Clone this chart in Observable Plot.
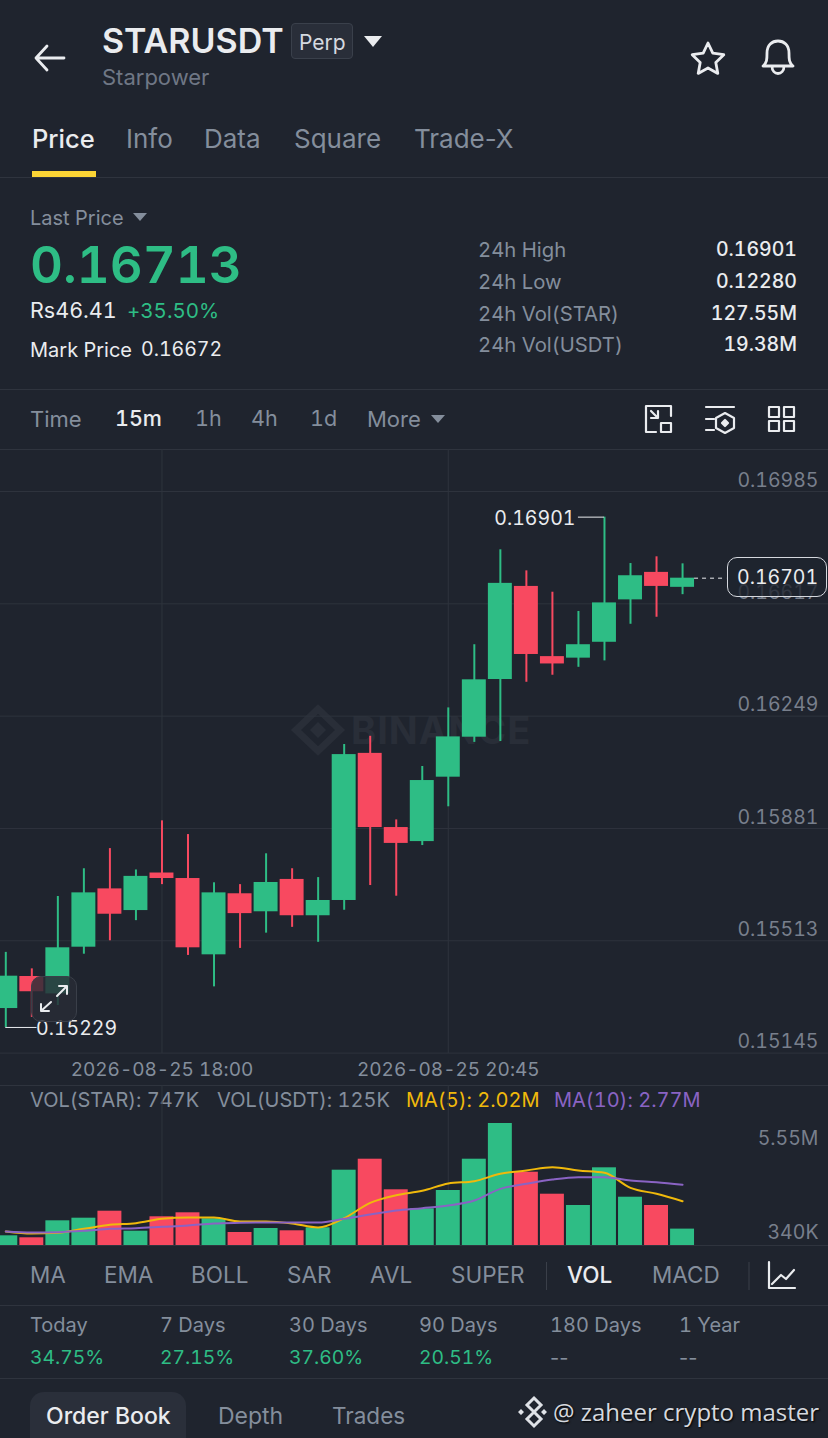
<!DOCTYPE html>
<html>
<head>
<meta charset="utf-8">
<script src="https://cdn.jsdelivr.net/npm/d3@7"></script>
<script src="https://cdn.jsdelivr.net/npm/@observablehq/plot@0.6"></script>
<style>
html,body{margin:0;padding:0;background:#1f242e;}
#page{position:relative;width:828px;height:1438px;overflow:hidden;background:#1f242e;font-family:Inter,sans-serif;font-variant-numeric:tabular-nums;font-feature-settings:"calt" 0,"tnum" 1;}
#page svg text{font-feature-settings:"calt" 0,"tnum" 1;}
.t{position:absolute;white-space:pre;line-height:1;transform:translateY(-50%);}
.hr{position:absolute;left:0;width:828px;height:1px;background:#2f343e;}
svg.icons{position:absolute;left:0;top:0;width:828px;height:1438px;pointer-events:none;}
</style>
</head>
<body>
<div id="page"></div>
<script>
// ---------- chart data ----------
const times = ["16:30","16:45","17:00","17:15","17:30","17:45","18:00","18:15","18:30","18:45","19:00","19:15","19:30","19:45","20:00","20:15","20:30","20:45","21:00","21:15","21:30","21:45","22:00","22:15","22:30","22:45","23:00"];
const open  = [.15291,.15396,.15339,.15492,.15683,.15612,.15735,.15717,.15467,.15667,.15608,.15714,.15595,.15645,.16127,.15884,.15838,.16049,.16180,.16369,.16674,.16444,.16439,.16491,.16630,.16720,.16671];
const close = [.15397,.15346,.15490,.15670,.15600,.15724,.15717,.15490,.15670,.15602,.15704,.15595,.15645,.16123,.15884,.15832,.16038,.16181,.16368,.16684,.16451,.16420,.16483,.16620,.16709,.16674,.16701];
const high  = [.15475,.15421,.15658,.15749,.15815,.15745,.15906,.15861,.15703,.15697,.15798,.15749,.15720,.16156,.16183,.15909,.16084,.16276,.16483,.16794,.16725,.16655,.16592,.16901,.16749,.16771,.16748];
const low   = [.15229,.15262,.15301,.15469,.15513,.15579,.15697,.15465,.15362,.15488,.15538,.15557,.15508,.15613,.15694,.15659,.15825,.15952,.16163,.16166,.16360,.16383,.16409,.16430,.16550,.16573,.16647];
const volume= [.442,.351,1.126,1.245,1.564,.652,1.309,1.491,1.218,.593,.775,.670,.807,3.434,3.935,2.540,1.674,2.508,3.935,5.563,3.342,2.339,1.824,3.543,2.202,1.824,.747];
const ma5   = [.638,.547,.578,.760,.943,1.018,1.216,1.277,1.277,1.094,1.094,1.003,.821,1.246,1.946,2.295,2.493,2.827,2.934,3.268,3.420,3.572,3.420,3.314,2.630,2.356,2.02];
const ma10  = [.638,.593,.608,.669,.760,.790,.851,.912,1.003,1.034,1.049,1.049,1.049,1.216,1.414,1.596,1.702,1.824,2.052,2.584,2.812,3.010,3.116,3.116,2.964,2.888,2.77];
const priceTicks = [.16985,.16617,.16249,.15881,.15513,.15145];
const timeTicks = ["18:00","20:45"];
const volTickHigh = [5.55], volTickLow = [.34];
const lastPrice = .16701, highest = .16901, lowest = .15229;

// ---------- interface text ----------
const C = {grey:"#848e9c", dim:"#6f7785", white:"#eaecef", green:"#2ebd85", red:"#f84960", yellow:"#f0b90b", purple:"#8a63c4", grid:"#2e333d"};
const labels = [
 ["STARUSDT",102,41,34,"#eaecef",600],["Perp",299,42,21,"#d5d9e0",400],["Starpower",102,77,22,C.dim,400],
 ["Price",32,139,25.5,"#eaecef",500],["Info",126,139,26,C.grey,400],["Data",204,139,26,C.grey,400],["Square",294,139,26,C.grey,400],["Trade-X",414,139,26,C.grey,400,"plain"],
 ["Last Price",30,218,20,C.grey,400],["0.16713",30,264,51,C.green,600],["Rs46.41",30,311,21.5,C.white,400],["+35.50%",127,311,20.5,C.green,400],
 ["Mark Price",30,350,20,C.white,400],["0.16672",141,350,19.5,C.white,400],
 ["24h High",478,250,20.3,C.grey,400],["24h Low",478,282,20.3,C.grey,400],["24h Vol(STAR)",478,314,20.3,C.grey,400],["24h Vol(USDT)",478,345,20.3,C.grey,400],
 ["Time",30,419,22,C.grey,400],["15m",115,419,21.5,"#eaecef",500],["1h",195,419,21.5,C.grey,400],["4h",251,419,21.5,C.grey,400],["1d",310,419,21.5,C.grey,400],["More",367,419,22,C.grey,400],
 ["VOL(STAR): 747K",30,1100,20,C.grey,400],["VOL(USDT): 125K",217,1100,20,C.grey,400],["MA(5): 2.02M",406,1100,20,C.yellow,400],["MA(10): 2.77M",554,1100,20,C.purple,400],
 ["MA",30,1275,22.5,C.grey,400],["EMA",104,1275,22.5,C.grey,400],["BOLL",191,1275,22.5,C.grey,400],["SAR",287,1275,22.5,C.grey,400],["AVL",370,1275,22.5,C.grey,400],["SUPER",451,1275,22.5,C.grey,400],["VOL",567,1275,22.5,"#eaecef",500],["MACD",652,1275,22.5,C.grey,400],
 ["Today",30,1325,20,C.grey,400],["7 Days",160,1325,20,C.grey,400],["30 Days",289,1325,20,C.grey,400],["90 Days",419,1325,20,C.grey,400],["180 Days",550,1325,20,C.grey,400],["1 Year",679,1325,20,C.grey,400],
 ["34.75%",30,1358,19.3,C.green,400],["27.15%",160,1358,19.3,C.green,400],["37.60%",289,1358,19.3,C.green,400],["20.51%",419,1358,19.3,C.green,400],["--",550,1358,20,C.grey,400,"plain"],["--",679,1358,20,C.grey,400,"plain"],
 ["Order Book",46,1416,23,"#eaecef",500],["Depth",218,1416,23,C.grey,400],["Trades",332,1416,22.5,C.grey,400]
];
const statValues = [["0.16901",250],["0.12280",282],["127.55M",314],["19.38M",345]];

const page = document.getElementById("page");
const el = (html) => {const d=document.createElement("div");d.innerHTML=html;const n=d.firstElementChild;page.appendChild(n);return n;};
[177,389,449,1085,1305,1378].forEach(y=>el(`<div class="hr" style="top:${y}px"></div>`));
el(`<div style="position:absolute;left:32px;top:171px;width:64px;height:6px;background:#fcd535"></div>`);
el(`<div style="position:absolute;left:291px;top:23px;width:60px;height:34px;border:1px solid #3a404b;border-radius:4px;background:#292e39"></div>`);
el(`<div style="position:absolute;left:30px;top:1392px;width:156px;height:60px;border-radius:14px;background:#2a2f3a"></div>`);
// Binance watermark, beneath the chart
el(`<div class="t" style="left:351px;top:730px;font-size:38px;font-weight:700;color:#292e38;letter-spacing:1px">BINANCE</div>`);
el(`<svg class="icons"><g fill="none" stroke="#292e38"><path d="M318 709l22 21-22 21-22-21z" stroke-width="7"/></g><path d="M318 722l8 8-8 8-8-8z" fill="#292e38"/></svg>`);

for (const [s,x,y,size,color,w,plain] of labels)
  el(`<div class="t" style="left:${x}px;top:${y}px;font-size:${size}px;color:${color};font-weight:${w}${plain?';font-feature-settings:normal;font-variant-numeric:normal':''}">${s}</div>`);
for (const [s,y] of statValues)
  el(`<div class="t" style="right:31px;top:${y}px;font-size:19.5px;color:${C.white};font-weight:500">${s}</div>`);
el(`<div class="t" style="left:553px;top:1412px;font-family:'Open Sans',sans-serif;font-size:24px;color:#d5d8de;text-shadow:1px 1px 2px #000">@ zaheer crypto master</div>`);

// ---------- chart ----------
const day = "2026-08-25T";
const rows = times.map((s,i)=>({t:new Date(day+s+":00Z"),open:open[i],close:close[i],high:high[i],low:low[i],volume:volume[i],ma5:ma5[i],ma10:ma10[i]}));
const MIN = 60000;
const half = 6.9*MIN;
const shift = (d,m)=>new Date(+d+m*MIN);
const first = rows[0].t;
const xDomain = [shift(first,-3.05), shift(first,474.1)];
const up = rows.filter(d=>d.close>=d.open), down = rows.filter(d=>d.close<d.open);
const xScale = {type:"utc",domain:xDomain,range:[0,828],axis:null};
const gridTimes = timeTicks.map(s=>new Date(day+s+":00Z"));
const fmtT = d3.utcFormat("%Y-%m-%d %H:%M");
const fmtP = d3.format(".5f");
const font = {background:"transparent",fontFamily:"Inter, sans-serif",fontSize:"19.5px",overflow:"visible"};
const hiRow = rows.find(d=>d.high===highest), loRow = rows.find(d=>d.low===lowest);

const candleMarks = (rowsIn,color)=>[
  Plot.ruleX(rowsIn,{x:"t",y1:"low",y2:"high",stroke:color,strokeWidth:2}),
  Plot.rect(rowsIn,{x1:d=>new Date(+d.t-half),x2:d=>new Date(+d.t+half),y1:"open",y2:"close",fill:color})
];

const price = Plot.plot({
  width:828,height:636,marginTop:0,marginBottom:32,marginLeft:0,marginRight:0,style:font,
  x:xScale,
  y:{domain:[.15145,.16985],range:[603.6,42],axis:null},
  marks:[
    Plot.gridX(gridTimes,{stroke:C.grid,strokeOpacity:1}),
    Plot.gridY(priceTicks,{stroke:C.grid,strokeOpacity:1}),
    Plot.axisX(gridTimes,{anchor:"bottom",tickSize:0,tickPadding:9,tickFormat:fmtT,fill:C.grey,label:null,fontSize:19}),
    Plot.axisY(priceTicks,{anchor:"right",tickSize:0,tickPadding:-10,textAnchor:"end",dy:-11,tickFormat:fmtP,fill:"#787f8c",label:null}),
    ...candleMarks(up,C.green),
    ...candleMarks(down,C.red),
    Plot.ruleY([highest],{x1:shift(hiRow.t,-15),x2:hiRow.t,stroke:"#eaecef",strokeWidth:1}),
    Plot.text([highest],{x:shift(hiRow.t,-15),y:d=>d,text:d=>fmtP(d),textAnchor:"end",dx:-3,dy:2,fill:"#eaecef",fontVariant:"tabular-nums"}),
    Plot.ruleY([lowest],{x1:loRow.t,x2:shift(loRow.t,18),stroke:"#eaecef",strokeWidth:1}),
    Plot.text([lowest],{x:shift(loRow.t,18),y:d=>d,text:d=>fmtP(d),textAnchor:"start",dx:-1,dy:1,fill:"#eaecef",fontVariant:"tabular-nums"}),
    Plot.ruleY([lastPrice],{x1:shift(rows[26].t,half/MIN),x2:shift(rows[26].t,half/MIN+18.5),stroke:"#eaecef",strokeWidth:1,strokeDasharray:"4 4"})
  ]
});
price.style.cssText += ";position:absolute;left:0;top:449px;";
page.appendChild(price);

const vol = Plot.plot({
  width:828,height:160,marginTop:0,marginBottom:0,marginLeft:0,marginRight:0,style:font,
  x:xScale,
  y:{domain:[0,5.563],range:[160,38],axis:null},
  marks:[
    Plot.gridX(gridTimes,{stroke:C.grid,strokeOpacity:1}),
    Plot.ruleY([0],{stroke:"#2f343e"}),
    Plot.rect(up,{x1:d=>new Date(+d.t-half),x2:d=>new Date(+d.t+half),y1:0,y2:"volume",fill:C.green}),
    Plot.rect(down,{x1:d=>new Date(+d.t-half),x2:d=>new Date(+d.t+half),y1:0,y2:"volume",fill:C.red}),
    Plot.line(rows,{x:"t",y:"ma5",stroke:C.yellow,strokeWidth:2,curve:"monotone-x"}),
    Plot.line(rows,{x:"t",y:"ma10",stroke:C.purple,strokeWidth:2,curve:"monotone-x"}),
    Plot.text(volTickHigh,{y:d=>d,frameAnchor:"right",dx:-10,dy:15,textAnchor:"end",text:()=>"5.55M",fill:"#787f8c",fontVariant:"tabular-nums"}),
    Plot.text(volTickLow,{y:d=>d,frameAnchor:"right",dx:-10,dy:-5.5,textAnchor:"end",text:()=>"340K",fill:"#787f8c",fontVariant:"tabular-nums"})
  ]
});
vol.style.cssText += ";position:absolute;left:0;top:1085px;";
page.appendChild(vol);

// ---------- overlays ----------
el(`<div style="position:absolute;left:727px;top:557px;width:98px;height:38px;border:1.3px solid #d5d8de;border-radius:10px;background:rgba(31,36,46,.78)"></div>`);
el(`<div class="t" style="left:737px;top:578px;font-size:19.5px;color:#eaecef">0.16701</div>`);
el(`<div style="position:absolute;left:31px;top:976px;width:44px;height:44px;border:1.3px solid #3a3f49;border-radius:10px;background:rgba(40,44,54,.82)"></div>`);
el(`<svg class="icons">
 <g fill="none" stroke="#eaecef" stroke-width="2.2" stroke-linecap="round" stroke-linejoin="round">
  <path d="M64 58H36M47 46L36 58L47 70" stroke-width="2.8"/>
  <path d="M708 43l4.800 10.200 11 1.500-8 7.700 2 11-9.800-5.400-9.800 5.400 2-11-8-7.700 11-1.500z" stroke-width="2.8"/>
  <path d="M763 66c4-3 4-7 4-13 0-8 5-12 11-12s11 4 11 12c0 6 0 10 4 13zM772 66c0 10 12 10 12 0" stroke-width="2.8"/>
  <path d="M671 416v-10h-25v26h10M651 411l7 7M651 418h7v-7" />
  <rect x="661" y="423" width="10" height="9"/>
  <path d="M706 407h28M706 419h8M706 430h8M725 413l9 5v10l-9 5-9-5v-10z"/>
  <path d="M725 420l3 3-3 3-3-3z" fill="#eaecef"/>
  <rect x="769" y="407" width="10" height="10"/><rect x="784" y="407" width="10" height="10"/><rect x="769" y="421" width="10" height="10"/><rect x="784" y="421" width="10" height="10"/>
  <path d="M769 1262v26h26M772 1284l9-9 5 4 8-9"/>
  <path d="M41 1011l10-9M41 1004v7h8M57 996l10-10M59 986h8v8" stroke-width="2"/>
 </g>
 <g fill="#eaecef"><path d="M364 36h18l-9 11z"/></g>
 <g fill="#848e9c"><path d="M133 213h14l-7 8zM431 415h14l-7 8z"/></g>
 <path d="M546.500 1262v28M749 1262v28" stroke="#3a3f49"/>
 <g fill="none" stroke="#dfe2e7" stroke-width="3"><path d="M534 1398l7 7-7 7-7-7zM534 1412l7 7-7 7-7-7z"/></g>
 <path d="M524 1412l-3-3-3 3 3 3zM547 1412l-3-3-3 3 3 3z" fill="#dfe2e7"/>
</svg>`);
</script>
</body>
</html>
